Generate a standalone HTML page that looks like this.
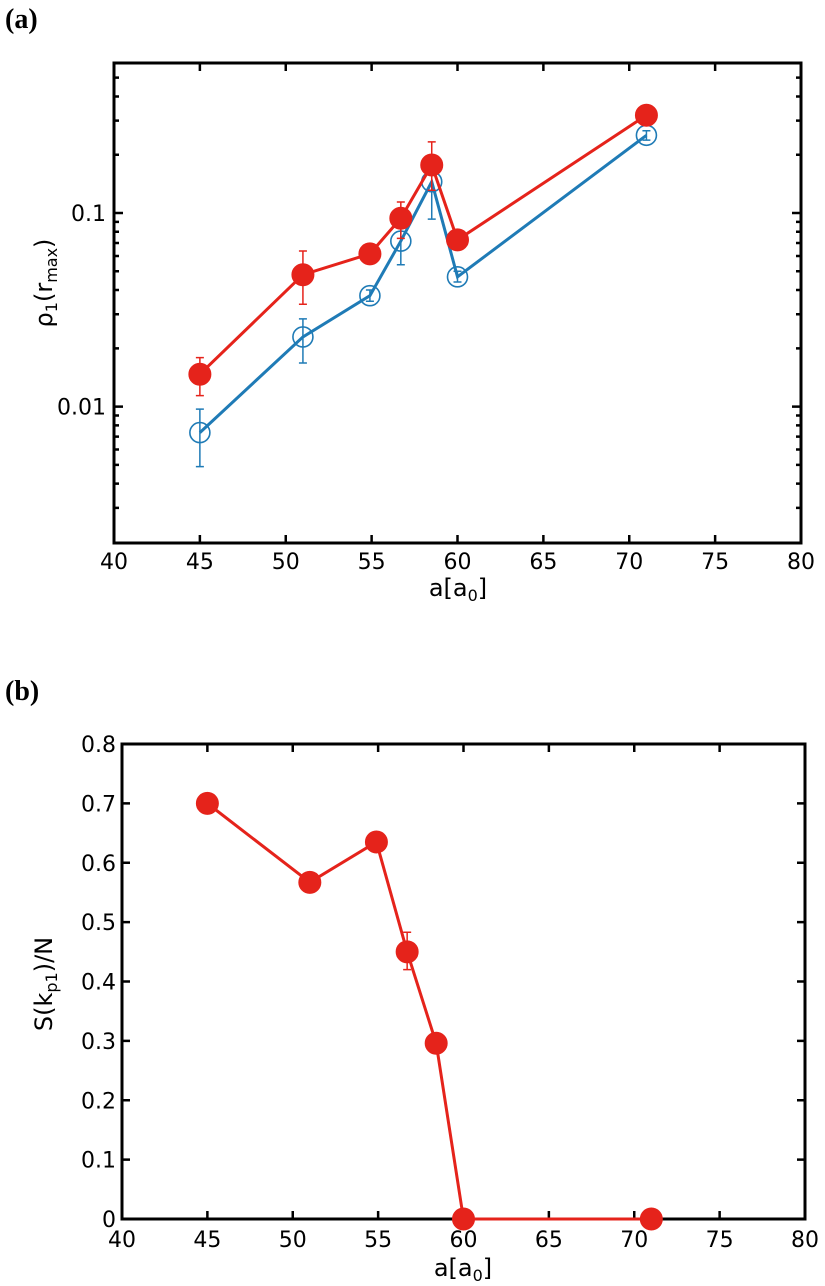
<!DOCTYPE html>
<html><head><meta charset="utf-8"><style>
body{margin:0;background:#fff;}
svg{display:block;font-family:"DejaVu Sans","Liberation Sans",sans-serif;}
</style></head><body>
<svg id="fig" width="825" height="1286" viewBox="0 0 825 1286" xmlns="http://www.w3.org/2000/svg">
<text x="5" y="28" font-family="Liberation Serif, serif" font-weight="bold" font-size="28">(a)</text>
<text x="5" y="700" font-family="Liberation Serif, serif" font-weight="bold" font-size="28">(b)</text>
<g id="pa"></g>
<g id="pb"></g>
<text transform="translate(52,283) rotate(-90)" text-anchor="middle" font-size="24">ρ<tspan font-size="16" dy="5">1</tspan><tspan dy="-5">(r</tspan><tspan font-size="16" dy="5">max</tspan><tspan dy="-5">)</tspan></text>
<text x="458" y="596" text-anchor="middle" font-size="24">a[a<tspan font-size="16" dy="5">0</tspan><tspan dy="-5">]</tspan></text>
<text transform="translate(52,984) rotate(-90)" text-anchor="middle" font-size="24">S(k<tspan font-size="16" dy="5">p1</tspan><tspan dy="-5">)/N</tspan></text>
<text x="463" y="1276" text-anchor="middle" font-size="24">a[a<tspan font-size="16" dy="5">0</tspan><tspan dy="-5">]</tspan></text>
</svg>
<script>
const aX = [45, 51, 54.9, 56.7, 58.5, 60, 71];
const redY = [0.0147, 0.048, 0.0615, 0.094, 0.177, 0.0726, 0.32];
const redLo = [0.0114, 0.0338, 0.058, 0.074, 0.131, 0.069, 0.305];
const redHi = [0.0179, 0.0636, 0.065, 0.114, 0.233, 0.076, 0.335];
const blueY = [0.00734, 0.0229, 0.0374, 0.0716, 0.145, 0.0468, 0.252];
const blueLo = [0.0049, 0.0168, 0.035, 0.054, 0.093, 0.044, 0.238];
const blueHi = [0.0097, 0.0284, 0.040, 0.101, 0.16, 0.050, 0.266];
const xTicks = [40, 45, 50, 55, 60, 65, 70, 75, 80];
const yTicksA = [0.01, 0.1];
const yTickLabelsA = ["0.01", "0.1"];
const bX = [45, 51, 54.9, 56.7, 58.4, 60, 71];
const bY = [0.70, 0.567, 0.635, 0.450, 0.296, 0, 0];
const bLo = [0.70, 0.567, 0.635, 0.42, 0.296, 0, 0];
const bHi = [0.70, 0.567, 0.635, 0.483, 0.296, 0, 0];
const yTicksB = [0, 0.1, 0.2, 0.3, 0.4, 0.5, 0.6, 0.7, 0.8];
const yTickLabelsB = ["0", "0.1", "0.2", "0.3", "0.4", "0.5", "0.6", "0.7", "0.8"];

const NS = "http://www.w3.org/2000/svg";
const RED = "#e5231b", BLUE = "#1f7bb6";
function mk(parent, tag, attrs) {
  const e = document.createElementNS(NS, tag);
  for (const k in attrs) e.setAttribute(k, attrs[k]);
  parent.appendChild(e);
  return e;
}
const A = {l: 114, r: 801, t: 63, b: 543};
const xA = v => A.l + (v - 40) / 40 * (A.r - A.l);
const yA = v => 213 - (Math.log10(v) + 1) * 193.6;
const B = {l: 122, r: 805, t: 744, b: 1219};
const xB = v => B.l + (v - 40) / 40 * (B.r - B.l);
const yB = v => B.b - v / 0.8 * (B.b - B.t);

const pa = document.getElementById('pa');
const pb = document.getElementById('pb');

function frame(g, P, name) {
  const r = mk(g, 'rect', {x: P.l, y: P.t, width: P.r - P.l, height: P.b - P.t, fill: 'none', stroke: '#000', 'stroke-width': 3});
  
  
}
function xAxis(g, P, xs, ly) {
  xTicks.forEach(t => {
    const x = xs(t);
    const tk = mk(g, 'path', {d: `M${x},${P.b}v-8M${x},${P.t}v8`, stroke: '#000', 'stroke-width': 2.5});
    
    
    const tl = mk(g, 'text', {x: x, y: ly, 'text-anchor': 'middle', 'font-size': 22});
    tl.textContent = t;
    
    
  });
}
frame(pa, A, 'panel-a-plot-frame');
xAxis(pa, A, xA, 569);
for (let d = -3; d <= -1; d++) {
  for (let m = 2; m <= 9; m++) {
    const v = m * Math.pow(10, d);
    const y = yA(v);
    if (y < A.t + 2 || y > A.b - 2) continue;
    const mt = mk(pa, 'path', {d: `M${A.l},${y}h5M${A.r},${y}h-5`, stroke: '#000', 'stroke-width': 2.5});
    
    
  }
}
yTicksA.forEach((t, i) => {
  const y = yA(t);
  const tk = mk(pa, 'path', {d: `M${A.l},${y}h9M${A.r},${y}h-9`, stroke: '#000', 'stroke-width': 2.5});
  
  
  const tl = mk(pa, 'text', {x: A.l - 8, y: y + 8, 'text-anchor': 'end', 'font-size': 22});
  tl.textContent = yTickLabelsA[i];
  
  
});
function series(g, xs, ys, X, Y, lo, hi, color, filled, name) {
  const eb = mk(g, 'g', {});
  
  
  X.forEach((x, i) => {
    const px = xs(x), y1 = ys(lo[i]), y2 = ys(hi[i]);
    mk(eb, 'path', {d: `M${px},${y1}V${y2}M${px - 4},${y1}h8M${px - 4},${y2}h8`, stroke: color, 'stroke-width': 1.5, fill: 'none'});
  });
  const line = mk(g, 'polyline', {points: X.map((x, i) => xs(x) + ',' + ys(Y[i])).join(' '), fill: 'none', stroke: color, 'stroke-width': 3});
  
  
  X.forEach((x, i) => {
    const c = mk(g, 'circle', {cx: xs(x), cy: ys(Y[i]), r: filled ? 11 : 10, fill: filled ? color : 'none', stroke: color, 'stroke-width': filled ? 1 : 1.6});
    
    
  });
}
series(pa, xA, yA, aX, blueY, blueLo, blueHi, BLUE, false, 'blue-series');
series(pa, xA, yA, aX, redY, redLo, redHi, RED, true, 'red-series');

frame(pb, B, 'panel-b-plot-frame');
xAxis(pb, B, xB, 1247);
yTicksB.forEach((t, i) => {
  const y = yB(t);
  const tk = mk(pb, 'path', {d: `M${B.l},${y}h8M${B.r},${y}h-8`, stroke: '#000', 'stroke-width': 2.5});
  
  
  const tl = mk(pb, 'text', {x: B.l - 6, y: y + 8, 'text-anchor': 'end', 'font-size': 22});
  tl.textContent = yTickLabelsB[i];
  
  
});
series(pb, xB, yB, bX, bY, bLo, bHi, RED, true, 'structure-factor-series');
</script>
</body></html>
